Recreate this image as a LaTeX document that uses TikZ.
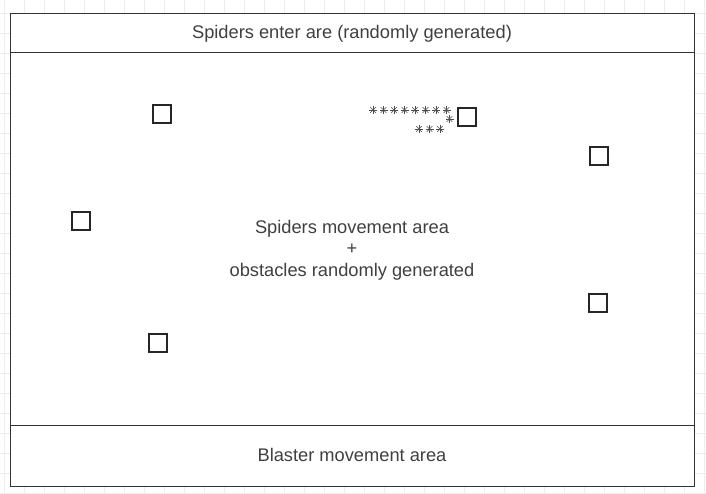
\documentclass[tikz,border=0pt]{standalone}
\usepackage{fontspec}
\setmainfont{Liberation Sans}
\begin{document}
\begin{tikzpicture}[x=0.75pt,y=-0.75pt,
  lbl/.style={text=black!75,font=\fontsize{13.7}{16}\selectfont,align=center},
  obst/.style={draw=black!85,line width=1.5pt,minimum size=13.5pt,inner sep=0pt},
  seg/.style={draw=black!70,line width=0.4pt}]
\fill[white] (0,0) rectangle (706,493);
\useasboundingbox (0,0) rectangle (706,493);
\foreach \i in {0,...,35} {\draw[black!7,line width=0.75pt] (4+20*\i,0) -- (4+20*\i,493);}
\foreach \j in {0,...,24} {\draw[black!7,line width=0.75pt] (0,13+20*\j) -- (706,13+20*\j);}
\draw[black!80,line width=0.75pt,fill=white] (10,13) rectangle (694,486);
\draw[black!80,line width=0.75pt] (10,52) -- (694,52);
\draw[black!80,line width=0.75pt] (10,425) -- (694,425);
\node[lbl] (top) at (352,33.5) {Spiders enter are (randomly generated)};
\node[lbl] (mid) at (352,250) {Spiders movement area\\+\\obstacles randomly generated};
\node[lbl] (bot) at (352,455) {Blaster movement area};
\node[obst] (o1) at (162,114) {};
\node[obst] (o2) at (467,117) {};
\node[obst] (o3) at (599,156) {};
\node[obst] (o4) at (81,221) {};
\node[obst] (o5) at (598,303) {};
\node[obst] (o6) at (158,343) {};
\foreach \px/\py in {373/110,383.5/110,394/110,404.5/110,415/110,425.5/110,436/110,446.5/110,449.5/119,419/129,429.5/129,440/129} {
  \foreach \a in {0,45,90,135} {\draw[seg] ({\px+4*cos(\a)},{\py+4*sin(\a)}) -- ({\px-4*cos(\a)},{\py-4*sin(\a)});}
}
\end{tikzpicture}
\end{document}
